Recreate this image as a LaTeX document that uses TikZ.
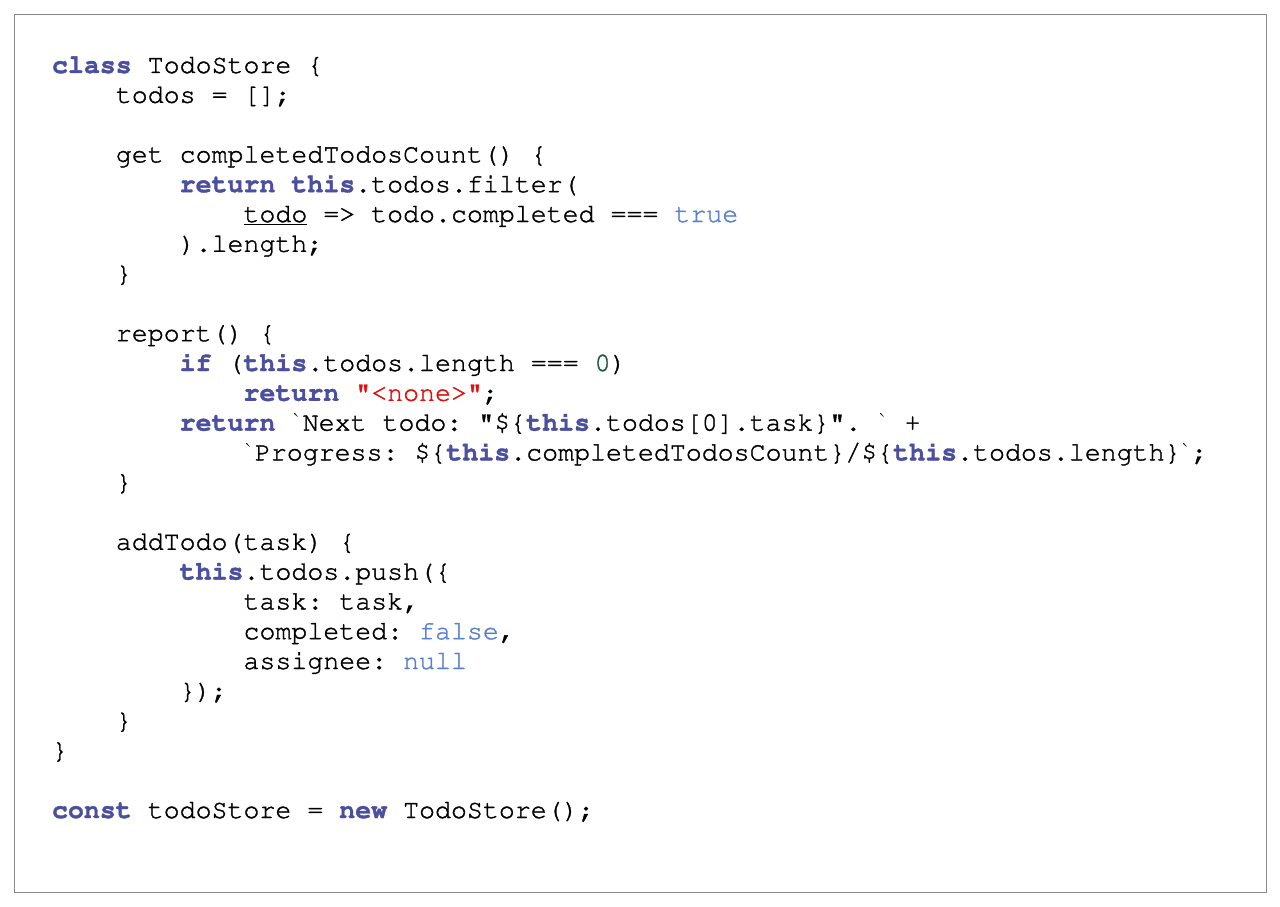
\documentclass[tikz,border=0pt]{standalone}
\usepackage[T1]{fontenc}
\usepackage{courier}
\definecolor{kwc}{HTML}{4B4F9E}
\definecolor{litc}{HTML}{5B80CF}
\definecolor{strc}{HTML}{E01010}
\definecolor{numc}{HTML}{1E5A3C}
\definecolor{framec}{HTML}{8A8A8A}
\newcommand{\kw}[1]{\textbf{\color{kwc}#1}}
\newcommand{\lit}[1]{{\color{litc}#1}}
\newcommand{\strl}[1]{{\color{strc}#1}}
\newcommand{\numl}[1]{{\color{numc}#1}}
\newcommand{\bq}{\textasciigrave}
\newcommand{\heavytext}{\special{pdf:literal direct 2 Tr 0.35 w}}
\frenchspacing
\begin{document}
\begin{tikzpicture}[x=1pt,y=-1pt,
  codeline/.style={anchor=base west,inner sep=0pt,outer sep=0pt,
    font=\ttfamily\fontsize{26.6}{29.8}\selectfont\frenchspacing\heavytext,text=black}]
\useasboundingbox (0,0) rectangle (1280,907);
\draw[framec,line width=1.5pt] (14.5,14.5) rectangle (1266.5,892.5);
\def\cx#1{52+15.96*#1}
\def\cy#1{73+29.8*(#1-1)}
\node[codeline] (l1) at ({\cx{0}},{\cy{1}}) {\kw{class} TodoStore \{};
\node[codeline] (l2) at ({\cx{4}},{\cy{2}}) {todos = [];};
\node[codeline] (l4) at ({\cx{4}},{\cy{4}}) {get completedTodosCount() \{};
\node[codeline] (l5) at ({\cx{8}},{\cy{5}}) {\kw{return} \kw{this}.todos.filter(};
\node[codeline] (l6) at ({\cx{12}},{\cy{6}}) {\underline{todo} => todo.completed === \lit{true}};
\node[codeline] (l7) at ({\cx{8}},{\cy{7}}) {).length;};
\node[codeline] (l8) at ({\cx{4}},{\cy{8}}) {\}};
\node[codeline] (l10) at ({\cx{4}},{\cy{10}}) {report() \{};
\node[codeline] (l11) at ({\cx{8}},{\cy{11}}) {\kw{if} (\kw{this}.todos.length === \numl{0})};
\node[codeline] (l12) at ({\cx{12}},{\cy{12}}) {\kw{return} \strl{"<none>"};};
\node[codeline] (l13) at ({\cx{8}},{\cy{13}}) {\kw{return} \bq Next todo: "\$\{\kw{this}.todos[0].task\}". \bq\ +};
\node[codeline] (l14) at ({\cx{12}},{\cy{14}}) {\bq Progress: \$\{\kw{this}.completedTodosCount\}/\$\{\kw{this}.todos.length\}\bq;};
\node[codeline] (l15) at ({\cx{4}},{\cy{15}}) {\}};
\node[codeline] (l17) at ({\cx{4}},{\cy{17}}) {addTodo(task) \{};
\node[codeline] (l18) at ({\cx{8}},{\cy{18}}) {\kw{this}.todos.push(\{};
\node[codeline] (l19) at ({\cx{12}},{\cy{19}}) {task: task,};
\node[codeline] (l20) at ({\cx{12}},{\cy{20}}) {completed: \lit{false},};
\node[codeline] (l21) at ({\cx{12}},{\cy{21}}) {assignee: \lit{null}};
\node[codeline] (l22) at ({\cx{8}},{\cy{22}}) {\});};
\node[codeline] (l23) at ({\cx{4}},{\cy{23}}) {\}};
\node[codeline] (l24) at ({\cx{0}},{\cy{24}}) {\}};
\node[codeline] (l26) at ({\cx{0}},{\cy{26}}) {\kw{const} todoStore = \kw{new} TodoStore();};
\end{tikzpicture}
\end{document}
